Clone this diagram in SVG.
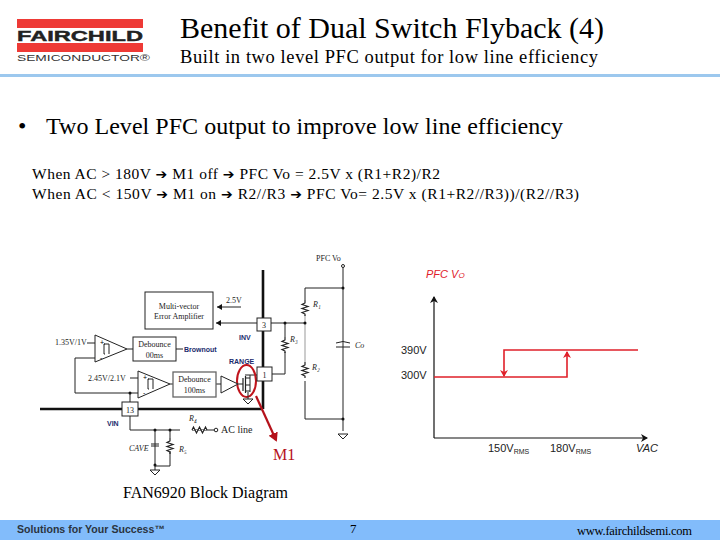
<svg xmlns="http://www.w3.org/2000/svg" width="720" height="540" viewBox="0 0 720 540">
<style>
.s{font-family:"Liberation Serif","Times New Roman",serif;fill:#000}
.a{font-family:"Liberation Sans",Arial,sans-serif}
.d{font-family:"Liberation Serif",serif;font-size:8px;fill:#222}
.dn{font-family:"Liberation Sans",sans-serif;font-size:7px;font-weight:bold;fill:#1a2a6c}
.w{fill:none;stroke:#222;stroke-width:1}
.b{fill:#fff;stroke:#222;stroke-width:1}
.c{fill:#fff;stroke:#222;stroke-width:1}
.red{fill:none;stroke:#e0202a;stroke-width:1.6}
.ax{fill:none;stroke:#111;stroke-width:1.2}
.ch{font-family:"Liberation Sans",sans-serif;font-size:11px;fill:#222}
.ar{font-family:"DejaVu Sans",sans-serif;font-size:14px}
</style>
<defs>
<marker id="ah" markerWidth="8" markerHeight="8" refX="6" refY="4" orient="auto" markerUnits="userSpaceOnUse"><path d="M0 0L7 4L0 8L2 4Z" fill="#111"/></marker>
<marker id="ar" markerWidth="8" markerHeight="8" refX="6" refY="4" orient="auto" markerUnits="userSpaceOnUse"><path d="M0 0L7 4L0 8L2 4Z" fill="#e0202a"/></marker>
<marker id="am" markerWidth="10" markerHeight="10" refX="7" refY="5" orient="auto" markerUnits="userSpaceOnUse"><path d="M0 0L9 5L0 10Z" fill="#b5121b"/></marker>
<marker id="ak" markerWidth="6" markerHeight="6" refX="5" refY="3" orient="auto" markerUnits="userSpaceOnUse"><path d="M0 0L5 3L0 6Z" fill="#111"/></marker>
<path id="res" d="M0 0l0 3l-3 1.5l6 2l-6 2l6 2l-6 2l3 1.500l0 2" fill="none" stroke="#222" stroke-width="1.200"/>
<path id="gnd" d="M-5 0H5L0 5Z" fill="#fff" stroke="#222" stroke-width="1"/>
</defs>
<rect width="720" height="540" fill="#fff"/>

<g id="logo">
<rect x="17" y="19" width="126" height="9" fill="#ee3a36"/>
<text x="17" y="41" class="a" font-size="14" font-weight="bold" textLength="126" lengthAdjust="spacingAndGlyphs" fill="#222" stroke="#222" stroke-width="0.400">FAIRCHILD</text>
<rect x="17" y="43" width="126" height="9" fill="#ee3a36"/>
<text x="17" y="61" class="a" font-size="9.500" textLength="133" lengthAdjust="spacingAndGlyphs" fill="#333">SEMICONDUCTOR®</text>
</g>
<g id="header">
<text x="180" y="38" class="s" font-size="28.500" textLength="424" lengthAdjust="spacingAndGlyphs">Benefit of Dual Switch Flyback (4)</text>
<text x="180" y="63" class="s" font-size="18.500" textLength="418" lengthAdjust="spacing">Built in two level PFC output for low line efficiency</text>
<rect x="0" y="74" width="720" height="3" fill="#9cc8ee"/>
</g>
<g id="body">
<text x="18" y="134" class="s" font-size="24">•</text>
<text x="46" y="134" class="s" font-size="24" textLength="517">Two Level PFC output to improve low line efficiency</text>
<text x="32" y="179" class="s" font-size="15.500" textLength="408">When AC &gt; 180V <tspan class="ar">➔</tspan> M1 off <tspan class="ar">➔</tspan> PFC Vo = 2.5V x (R1+R2)/R2</text>
<text x="32" y="199" class="s" font-size="15.500" textLength="547">When AC &lt; 150V <tspan class="ar">➔</tspan> M1 on <tspan class="ar">➔</tspan> R2//R3 <tspan class="ar">➔</tspan> PFC Vo= 2.5V x (R1+R2//R3))/(R2//R3)</text>
</g>

<g id="connectors">
<path d="M263 270V409M40 409H263" fill="none" stroke="#111" stroke-width="2.600"/>
<path class="w" d="M241 307H217" marker-end="url(#ak)"/>
<path class="w" d="M257 323H216" marker-end="url(#ak)"/>
<path class="w" d="M271 323H305M285 323V337M285 352V374H272"/>
<path class="w" d="M343 267V431M343 288H305V300M305 381V419H343"/>
<path d="M305 315V362" fill="none" stroke="#aaa" stroke-width="1.200"/>
<path class="w" d="M87 343H95M176 349H183M127 349H133"/>
<path class="w" d="M95 358H75V393H138M130 378H138M130 393V402"/>
<path class="w" d="M170 384H173M216 384H221"/>
<path class="w" d="M130 416V430H180M155 430V465M170 430V438M170 451V466H155"/>
<path class="w" d="M192 430H214"/>
<path class="w" d="M245 375H257M250 375V392M238 384H243"/>
<ellipse cx="246.500" cy="381" rx="9.500" ry="16" fill="none" stroke="#c0141c" stroke-width="2"/>
<path d="M256 396L276 440" fill="none" stroke="#b5121b" stroke-width="2.200" marker-end="url(#am)"/>
</g>

<g id="pfc-vo"><text x="316" y="261" class="d">PFC Vo</text><circle cx="343" cy="266" r="1.500" class="c"/></g>
<g id="node-dots" fill="#111">
<circle cx="343" cy="288" r="1.500"/><circle cx="343" cy="419" r="1.500"/><circle cx="305" cy="323" r="1.500"/><circle cx="285" cy="323" r="1.500"/><circle cx="130" cy="393" r="1.500"/><circle cx="155" cy="430" r="1.500"/><circle cx="170" cy="430" r="1.500"/><circle cx="155" cy="465" r="1.500"/>
</g>
<g id="amp"><rect x="145" y="292" width="68" height="37" class="b"/><text x="179" y="309" class="d" text-anchor="middle">Multi-vector</text><text x="179" y="319" class="d" text-anchor="middle">Error Amplifier</text><text x="226" y="303" class="d">2.5V</text></g>
<g id="pin3"><rect x="257" y="318" width="14" height="13" class="b"/><text x="264" y="328" class="d" text-anchor="middle">3</text><text x="239" y="340" class="dn">INV</text></g>
<g id="pin1"><rect x="257" y="367" width="15" height="14" class="b"/><text x="264.500" y="378" class="d" text-anchor="middle">1</text><text x="229" y="364" class="dn">RANGE</text></g>
<g id="pin13"><rect x="122" y="402" width="16" height="14" class="b"/><text x="130" y="413" class="d" text-anchor="middle">13</text><text x="107" y="426" class="dn">VIN</text></g>
<g id="cmp1"><path d="M95 335V362L127 349Z" class="b"/><path d="M105 344h-1v10h1M104 344h5v10" fill="none" stroke="#222"/><text x="100" y="345" font-size="7" class="a">+</text><text x="100" y="360" font-size="7" class="a">-</text><text x="55" y="345" class="d">1.35V/1V</text></g>
<g id="debounce1"><rect x="133" y="337" width="43" height="24" class="b"/><text x="154.500" y="347" class="d" text-anchor="middle">Debounce</text><text x="154.500" y="358" class="d" text-anchor="middle">00ms</text></g>
<g id="brownout"><text x="184" y="352" class="dn">Brownout</text></g>
<g id="cmp2"><path d="M138 371V398L170 384Z" class="b"/><path d="M149 379h-1v10h1M148 379h5v10" fill="none" stroke="#222"/><text x="143" y="380" font-size="7" class="a">+</text><text x="143" y="395" font-size="7" class="a">-</text><text x="88" y="381" class="d">2.45V/2.1V</text></g>
<g id="debounce2"><rect x="173" y="372" width="43" height="25" fill="#fff" stroke="#666" stroke-width="1.300"/><text x="194.500" y="382" class="d" text-anchor="middle">Debounce</text><text x="194.500" y="393" class="d" text-anchor="middle">100ms</text></g>
<g id="buffer"><path d="M221 376V393L238 384Z" class="b"/></g>
<g id="m1-switch"><path d="M243 378V391M245.500 376V393M245.500 378H250M245.500 391H250M245.500 385H250" fill="none" stroke="#222" stroke-width="1.200"/><use href="#gnd" x="248" y="399"/><path class="w" d="M248 392V399"/></g>
<g id="r1"><use href="#res" x="305" y="300"/><text x="313" y="307" class="d" font-style="italic">R₁</text></g>
<g id="r2"><use href="#res" x="305" y="362"/><text x="312" y="370" class="d" font-style="italic">R₂</text></g>
<g id="r3"><use href="#res" x="285" y="337"/><text x="290" y="342" class="d" font-style="italic">R₃</text></g>
<g id="co"><path d="M336 343Q343 340 350 343M336 347H350" class="w"/><text x="355" y="348" class="d" font-style="italic">Co</text></g>
<g id="gnd-right"><use href="#gnd" x="343" y="434"/></g>
<g id="r4"><path d="M192 430l1.500-3l3 6l3-6l3 6l3-6l1.500 3" fill="#fff" stroke="#222" stroke-width="1.200"/><text x="189" y="421" class="d" font-style="italic">R₄</text></g>
<g id="ac-line"><circle cx="216" cy="430" r="1.800" class="c"/><text x="221" y="433" font-family="'Liberation Serif',serif" font-size="10" fill="#222">AC line</text></g>
<g id="cavg"><path d="M151 444H159M151 446H159" stroke="#222" stroke-width="1.200"/><text x="129" y="451" class="d" font-style="italic">CAVE</text></g>
<g id="r5"><use href="#res" x="170" y="438"/><text x="179" y="452" class="d" font-style="italic">R₅</text></g>
<g id="gnd-left"><use href="#gnd" x="155" y="470"/><path class="w" d="M155 465V470"/></g>
<g id="m1-label"><text x="273" y="460" class="s" font-size="16" style="fill:#b5121b">M1</text></g>
<g id="caption"><text x="123" y="498" class="s" font-size="16">FAN6920 Block Diagram</text></g>

<g id="chart">
<path class="ax" d="M434 438V297" marker-end="url(#ah)"/>
<path class="ax" d="M434 438H647" marker-end="url(#ah)"/>
<path class="red" d="M434 377H567V352" marker-end="url(#ar)"/>
<path class="red" d="M638 350H504V376" marker-end="url(#ar)"/>
<text x="426" y="278" class="ch" font-style="italic" style="fill:#e0202a">PFC V<tspan font-size="8">O</tspan></text>
<text x="401" y="354" class="ch">390V</text>
<text x="401" y="379" class="ch">300V</text>
<text x="488" y="452" class="ch" font-size="10">150V<tspan font-size="7" dy="1.500">RMS</tspan></text>
<text x="550" y="452" class="ch" font-size="10">180V<tspan font-size="7" dy="1.500">RMS</tspan></text>
<text x="636" y="452" class="ch" font-style="italic">VAC</text>
</g>

<g id="footer">
<rect x="0" y="520" width="720" height="20" fill="#82bcfb"/>
<text x="17" y="533" class="a" font-size="10.500" font-weight="bold" textLength="148" lengthAdjust="spacingAndGlyphs" fill="#2b3440">Solutions for Your Success™</text>
<text x="350" y="533" class="s" font-size="13">7</text>
<text x="577" y="535" class="s" font-size="12.500" textLength="115">www.fairchildsemi.com</text>
</g>
</svg>
